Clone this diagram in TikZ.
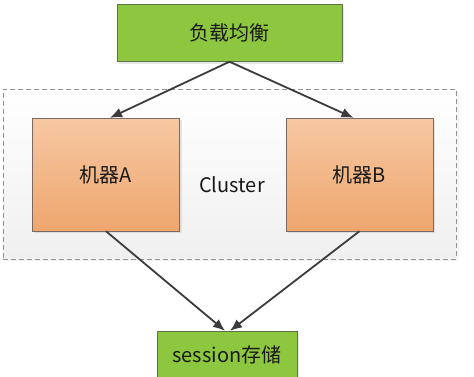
\documentclass[tikz,border=0pt]{standalone}
\usepackage{fontspec}
\setmainfont{Noto Sans CJK SC}
\usetikzlibrary{arrows.meta,shadows}
\definecolor{lbgreen}{RGB}{141,198,63}
\definecolor{lbedge}{RGB}{96,112,70}
\definecolor{mtop}{RGB}{246,200,162}
\definecolor{mbot}{RGB}{238,166,110}
\definecolor{medge}{RGB}{125,105,95}
\definecolor{arrowgray}{RGB}{60,60,60}
\definecolor{txtgray}{RGB}{25,25,25}

\begin{document}
\begin{tikzpicture}[x=1pt,y=-1pt,
  lbl/.style={text=txtgray,font=\fontsize{20}{24}\selectfont},
  greenbox/.style={lbl,draw=lbedge,fill=lbgreen,minimum height=57pt,
    drop shadow={shadow xshift=2pt,shadow yshift=-2pt,opacity=0.18}},
  machbox/.style={lbl,draw=medge,top color=mtop,bottom color=mbot,
    minimum width=147pt,minimum height=113pt,
    drop shadow={shadow xshift=2pt,shadow yshift=-2pt,opacity=0.18}},
  flow/.style={-{Latex[length=12pt,width=10pt]},arrowgray,line width=1.8pt}]
  \useasboundingbox (0,0) rectangle (474,376);
  \fill[white] (0,0) rectangle (474,376);
  \clip (0,0) rectangle (474,376);
  % cluster frame
  \node[draw=gray!85,dashed,dash pattern=on 5pt off 3pt,top color=white,bottom color=gray!12,
    minimum width=453pt,minimum height=170pt,
    drop shadow={shadow xshift=3pt,shadow yshift=-2pt,opacity=0.08}] (cluster) at (229.5,174) {};
  \node[lbl] (clname) at (232,185) {Cluster};
  \node[greenbox,minimum width=225pt] (lb) at (229.5,33) {负载均衡};
  \node[machbox] (mA) at (106,174.5) {机器A};
  \node[machbox] (mB) at (359.5,174.5) {机器B};
  \node[greenbox,minimum width=140pt,minimum height=58pt] (sess) at (227,360) {};
  \node[lbl] (sesstxt) at (227,355) {session存储};
  \draw[flow] (lb.south) -- ([xshift=4pt]mA.north);
  \draw[flow] (lb.south) -- ([xshift=-6pt]mB.north);
  \draw[flow] (mA.south) -- ([xshift=-2pt]sess.north);
  \draw[flow] (mB.south) -- ([xshift=3pt]sess.north);
\end{tikzpicture}
\end{document}
